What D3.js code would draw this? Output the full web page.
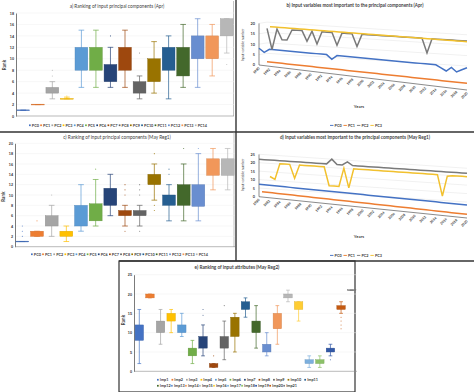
<!DOCTYPE html>
<html><head><meta charset="utf-8">
<script src="https://cdn.jsdelivr.net/npm/d3@7"></script>
<style>body{margin:0;background:#fff}svg{display:block;font-family:Lato,"Liberation Sans",Arial,sans-serif}</style>
</head><body><svg id="c" width="474" height="392"></svg>
<script>
// ---------- DATA ----------
const pcs = ["PC0","PC1","PC2","PC3","PC4","PC5","PC6","PC7","PC8","PC9","PC10","PC11","PC12","PC13","PC14"];
const imps = ["Imp1","Imp2","Imp3","Imp4","Imp5","Imp6","Imp7","Imp8","Imp9","Imp10","Imp11","Imp12","Imp13","Imp14","Imp15","Imp16","Imp17","Imp18","Imp19","Imp20","Imp21"];
const palette = ["#4472C4","#ED7D31","#A5A5A5","#FFC000","#5B9BD5","#70AD47","#264478","#9E480E","#636363","#997300","#255E91","#43682B","#698ED0","#F1975A","#B7B7B7","#FFCD33","#7CAFDD","#8CC168","#3258A6","#C55A11","#7F7F7F"];

// a) Apr
const aMin = [1,2,3,3,5,5,5,5,3,4,3,5,5,7,11];
const aQ1  = [1,2,4,3,8,8,6,8,4,6,8,7,10,10,14];
const aMed = [1,2,4.5,3,10,10,7.5,10,5,8,10,10,12,12,16];
const aQ3  = [1,2,5,3,12,12,9,12,6,10,12,12,14,14,17];
const aMax = [1,2,6,3.3,15,15,12,15,7,13,14,16,17,16,17];
const aOut = [[],[],[7,8],[3.5],[],[],[14],[],[11],[],[],[],[],[],[9]];
// c) May Reg1
const cMin = [1,2,2,1,3,4,6,4,4,9,5,5,5,11,11];
const cQ1  = [1,2,4,2,4,5,8,6,6,12,8,8,7.8,13.8,13.8];
const cMed = [1,2.5,5,2.5,6,6.5,10,6.5,6.5,13,9,10,10,15,15];
const cQ3  = [1,3,6,3,8,8.3,11.3,7,7,14,10,12,12,17,17];
const cMax = [1,3,8,4,12,13,14,8,8,16,12,16,18,19,19];
const cOut = [[2,3,4],[5],[10],[],[],[15],[],[3,10,11,12],[3,10,11,12],[7,8,18],[14,15],[19],[19],[],[]];
// e) May Reg2
const eMin = [2,19,7,10,9,2,4,1,3,5,14,6,4,7,18,13,1,1,4,15,21];
const eQ1  = [8,19,10,13,10,4,6,1,6,9,16,10,5,11,19,16,2,2,5,16,21];
const eMed = [10,19.5,11,14,11,5,7.5,1.5,7.5,11,17,11.5,6,13,19.5,17,2.5,2.5,5.5,16.5,21];
const eQ3  = [12,20,13,15,12,6,9,2,9,14,18,13,7,15,20,18,3,3,6,17,21];
const eMax = [16,20,16,16,15,8,12,2,13,15,19,17,10,17,21,18,4,4,7,18,21];
const eOut = [[],[],[],[],[],[],[14.5,16],[4],[17],[],[],[],[],[],[],[],[],[],[3],[11,12,13,14],[]];

// b) / d) line charts
const years = d3.range(1980, 2021);
const yearTicks = [1980,1982,1984,1986,1988,1990,1992,1994,1996,1998,2000,2002,2004,2006,2008,2010,2012,2014,2016,2018,2020];
const linePCs = ["PC0","PC1","PC2","PC3"];
const lineCols = ["#4472C4","#ED7D31","#7A7A7A","#F2C12E"];
const bPC0 = [8,6.3,8,8,8,8,8,8,8,8,8,8,8,8,6,8,8,8,8,8,8,8,8,8,8,8,8,8,8,8,8,8,8,8,8,6.8,5.5,7.5,5.5,6.8,8];
const bPC1 = [2,2,2,2,2,2,2,2,2,2,2,2,2,2,2,2,2,2,2,2,2,2,2,2,2,2,2,2,2,2,2,2,2,2,2,2,2,2,2,2,2];
const bPC2 = [17,7,17,12,12,17,17,17,12,17,11,17,17,17,11,17,17,17,11,17,17,17,17,17,17,17,17,17,17,17,17,17,10,17,17,17,17,17,17,17,17];
const bPC3 = [18,18,18,18,18,18,18,18,18,18,18,18,18,18,18,18,18,18,18,18,18,18,18,18,18,18,18,18,18,18,18,18,18,18,18,18,18,18,18,18,18];
const dPC0 = [7,7,7,7,7,7,7,7,7,7,7,7,7,7,7,7,7,7,7,7,7,7,7,7,7,7,7,7,7,7,7,7,7,7,7,7,7,7,7,7,7];
const dPC1 = [3,3,3,3,3,3,3,3,3,3,3,3,3,3,3,3,3,3,3,3,3,3,3,3,3,3,3,3,3,3,3,3,3,3,3,3,3,3,3,3,3];
const dPC2 = [22,22,22,22,22,22,22,22,22,22,22,22,22,22,25,22,22,24,22,22,22,22,22,22,22,22,22,22,22,22,22,22,22,22,22,22,22,22,22,22,22];
const dPC3 = [12,10.5,20,20,20,12,20,20,20,20,20,20,9,9,9,20,8.5,20,20,20,20,20,20,20,20,20,20,20,20,20,20,20,20,20,20,7.5,19.5,20,20,20,20];

// ---------- DRAW ----------
const svg = d3.select("#c");
const txt = "#404040";

function text(g, x, y, s, fs, opt={}) {
  const t = g.append("text").attr("x", x).attr("y", y).attr("font-size", fs).attr("fill", opt.fill || txt)
    .attr("text-anchor", opt.anchor || "middle").attr("font-weight", opt.bold ? "bold" : "normal").text(s);
  if (opt.rot !== undefined) t.attr("transform", `rotate(${opt.rot},${x},${y})`);
  return t;
}

function legendRow(g, labels, cols, x0, x1, y, fs, lineMark) {
  const items = labels.map((l, i) => {
    const it = g.append("g");
    const mw = lineMark ? fs * 0.9 : fs * 0.45;
    it.append("rect").attr("x", 0).attr("y", lineMark ? -fs * 0.42 : -fs * 0.55)
      .attr("width", mw).attr("height", lineMark ? fs * 0.25 : fs * 0.45).attr("fill", cols[i]);
    const t = it.append("text").attr("x", mw + fs * 0.3).attr("y", 0).attr("font-size", fs)
      .attr("font-weight", "bold").attr("fill", txt).text(l);
    return {it, w: mw + fs * 0.3 + t.node().getComputedTextLength()};
  });
  const total = d3.sum(items, d => d.w);
  const gap = (x1 - x0 - total) / (labels.length - 1);
  let x = x0;
  items.forEach(d => { d.it.attr("transform", `translate(${x},${y})`); x += d.w + gap; });
}

function boxChart(g, cats, mn, q1, md, q3, mx, outs, xr, yDom, yr, yStep, pad) {
  const x = d3.scaleBand().domain(cats).range(xr).paddingInner(pad).paddingOuter(pad / 2);
  const y = d3.scaleLinear().domain(yDom).range(yr);
  const ticks = d3.range(yDom[0], yDom[1] + 0.001, yStep);
  // gridlines
  g.append("g").selectAll("line").data(ticks.slice(1)).join("line")
    .attr("x1", xr[0]).attr("x2", xr[1]).attr("y1", d => y(d)).attr("y2", d => y(d))
    .attr("stroke", "#efefef").attr("stroke-width", 0.5);
  const ax = g.append("g").attr("transform", `translate(${xr[0]},0)`)
    .call(d3.axisLeft(y).tickValues(ticks).tickSize(0).tickPadding(2));
  ax.select(".domain").attr("stroke", "#595959").attr("stroke-width", 0.8);
  ax.selectAll("text").attr("font-size", 3.8).attr("font-weight", "bold").attr("fill", txt).attr("font-family", null);
  g.append("line").attr("x1", xr[0]).attr("x2", xr[1]).attr("y1", yr[0]).attr("y2", yr[0])
    .attr("stroke", "#8c8c8c").attr("stroke-width", 0.6);
  cats.forEach((c, i) => {
    const col = palette[i];
    const cx = x(c) + x.bandwidth() / 2, bw = x.bandwidth();
    const gg = g.append("g");
    gg.append("line").attr("x1", cx).attr("x2", cx).attr("y1", y(mx[i])).attr("y2", y(mn[i]))
      .attr("stroke", col).attr("stroke-width", 0.7);
    [mn[i], mx[i]].forEach(v => gg.append("line").attr("x1", cx - bw * 0.22).attr("x2", cx + bw * 0.22)
      .attr("y1", y(v)).attr("y2", y(v)).attr("stroke", col).attr("stroke-width", 0.7));
    const h = Math.max(y(q1[i]) - y(q3[i]), 0.8);
    gg.append("rect").attr("x", x(c)).attr("width", bw).attr("y", y(q3[i]) - (h === 0.8 ? 0.4 : 0)).attr("height", h)
      .attr("fill", col).attr("stroke", d3.color(col).darker(0.4)).attr("stroke-width", 0.4);
    outs[i].forEach(v => gg.append("circle").attr("cx", cx).attr("cy", y(v)).attr("r", 0.55).attr("fill", col).attr("opacity", 0.8));
  });
  return {x, y};
}

// dividers
svg.append("line").attr("x1", 236).attr("x2", 236).attr("y1", 0).attr("y2", 261).attr("stroke", "#333").attr("stroke-width", 1.4);
svg.append("line").attr("x1", 0).attr("x2", 474).attr("y1", 132).attr("y2", 132).attr("stroke", "#333").attr("stroke-width", 1.6);
svg.append("line").attr("x1", 119).attr("x2", 474).attr("y1", 261).attr("y2", 261).attr("stroke", "#333").attr("stroke-width", 1.4);
svg.append("rect").attr("x", 119).attr("y", 261).attr("width", 236).attr("height", 131).attr("fill", "none").attr("stroke", "#333").attr("stroke-width", 1.2);

// ---- a ----
const ga = svg.append("g");
text(ga, 117, 7.5, "a) Ranking of input principal components (Apr)", 4.7);
text(ga, 5.5, 65, "Rank", 4.6, {bold: true, rot: -90});
ga.append("line").attr("x1", 233.5).attr("x2", 233.5).attr("y1", 1).attr("y2", 116).attr("stroke", "#9a9a9a").attr("stroke-width", 0.6);
boxChart(ga, pcs, aMin, aQ1, aMed, aQ3, aMax, aOut, [16, 234], [0, 18], [116, 13], 2, 0.12);
legendRow(ga, pcs, palette, 29, 207, 126.5, 3.8, false);

// ---- c ----
const gc = svg.append("g");
text(gc, 117, 138.5, "c) Ranking of input principal components (May Reg1)", 4.7);
text(gc, 5.5, 196.7, "Rank", 4.6, {bold: true, rot: -90});
gc.append("line").attr("x1", 234).attr("x2", 234).attr("y1", 132).attr("y2", 247).attr("stroke", "#9a9a9a").attr("stroke-width", 0.6);
boxChart(gc, pcs, cMin, cQ1, cMed, cQ3, cMax, cOut, [15, 235], [0, 20], [246.7, 143.3], 2, 0.12);
legendRow(gc, pcs, palette, 31, 208, 255.5, 3.8, false);

// ---- e ----
const ge = svg.append("g");
text(ge, 237, 268.5, "e) Ranking of input attributes (May Reg2)", 4.7, {bold: true});
text(ge, 124.5, 320, "Rank", 4.6, {bold: true, rot: -90});
boxChart(ge, imps, eMin, eQ1, eMed, eQ3, eMax, eOut, [134, 357], [0, 25], [371.3, 274.7], 5, 0.2);
legendRow(ge, imps.slice(0, 11), palette.slice(0, 11), 157, 318, 381, 3.8, false);
legendRow(ge, imps.slice(11), palette.slice(11), 157, 297, 387, 3.8, false);

// ---- line charts with perspective ----
function plane(xs, ys, xe, ye, k) {
  const px = d3.scaleLinear().domain([1980, 2020]).range([xs, xe]);
  const py = d3.scaleLinear().domain([1980, 2020]).range([ys, ye]);
  const pv = d3.scaleLinear().domain([0, 1]).range([0, k]);
  return (yr, v) => [px(yr), py(yr) - pv(v)];
}
function lineChart(g, cfg) {
  const {title, ty, floor, planes, series, yMax, yStep, k, axisTitleY, yearsY, legY} = cfg;
  text(g, 355, ty, title, 4.6, {bold: true});
  const fp = plane(...floor, k);
  const back = planes[2];
  // back-wall gridlines
  d3.range(yStep, yMax + 0.001, yStep).forEach(v => {
    const l = d3.line()(years.filter((d, i) => i === 0 || i === years.length - 1).map(yr => back(yr, v)));
    g.append("path").attr("d", d3.line()([fp(1980, v), back(1980, v)])).attr("stroke", "#e3e3e3").attr("stroke-width", 0.5).attr("fill", "none");
    g.append("path").attr("d", l).attr("stroke", "#e3e3e3").attr("stroke-width", 0.5).attr("fill", "none");
  });
  // y axis
  const yAx = d3.scaleLinear().domain([0, yMax]).range([fp(1980, 0)[1], fp(1980, yMax)[1]]);
  g.append("line").attr("x1", floor[0]).attr("x2", floor[0]).attr("y1", yAx(0)).attr("y2", yAx(yMax)).attr("stroke", "#595959").attr("stroke-width", 0.7);
  d3.range(0, yMax + 0.001, yStep).forEach(v => text(g, floor[0] - 4, yAx(v) + 1.3, v, 3.8, {bold: true, anchor: "end"}));
  text(g, 244, axisTitleY, "Input variable number", 3.4, {rot: -90});
  // floor edge
  g.append("path").attr("d", d3.line()([fp(1980, 0), fp(2020, 0)])).attr("stroke", "#595959").attr("stroke-width", 0.7);
  yearTicks.forEach(yr => { const p = fp(yr, 0); text(g, p[0] + 1, p[1] + 3.5, yr, 3.4, {bold: true, anchor: "end", rot: -45}); });
  text(g, 359, yearsY, "Years", 4.3, {bold: true});
  // series
  series.forEach((s, i) => {
    const pr = planes[i];
    g.append("path").attr("d", d3.line()(years.map((yr, j) => pr(yr, s[j]))))
      .attr("fill", "none").attr("stroke", lineCols[i]).attr("stroke-width", 1.5).attr("stroke-linejoin", "miter");
  });
  legendRow(g, linePCs, lineCols, 330, 382, legY, 3.8, true);
}

const gb = svg.append("g");
lineChart(gb, {
  title: "b) Input variables most important to the principal components (Apr)", ty: 6.5,
  floor: [259, 65, 467, 90], k: 2.08, yMax: 20, yStep: 5, axisTitleY: 45, yearsY: 107.5, legY: 126.5,
  planes: [plane(259, 64.9, 467, 84.4, 2.08), plane(267, 65.9, 467, 87.5, 2.08), plane(267, 63.7, 467, 76.4, 2.08), plane(270, 64.1, 467, 79.1, 2.08)],
  series: [bPC0, bPC1, bPC2, bPC3]
});
const gd = svg.append("g");
lineChart(gd, {
  title: "d) Input variables most important to the principal components (May Reg1)", ty: 138.5,
  floor: [259, 196.7, 467, 218], k: 1.69, yMax: 25, yStep: 5, axisTitleY: 175, yearsY: 237.5, legY: 256.5,
  planes: [plane(259, 196.1, 467, 216.8, 1.69), plane(262, 196.8, 467, 219.4, 1.69), plane(259, 196.5, 467, 210.5, 1.69), plane(270, 196.8, 467, 210.5, 1.69)],
  series: [dPC0, dPC1, dPC2, dPC3]
});
</script></body></html>
